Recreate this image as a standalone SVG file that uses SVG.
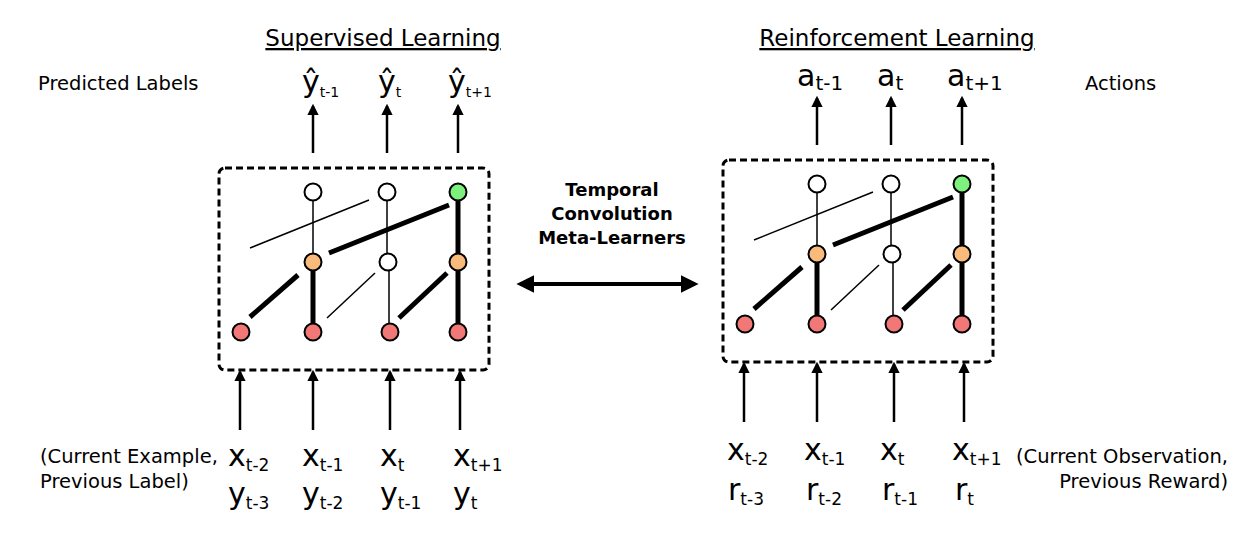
<svg xmlns="http://www.w3.org/2000/svg" width="1256" height="536" viewBox="0 0 1256 536">
<defs>
<marker id="ah" viewBox="0 0 10 10" refX="8" refY="5" markerWidth="4.5" markerHeight="4.5" orient="auto-start-reverse"><path d="M0,0 L10,5 L0,10 z" fill="#000"/></marker>
<style>
text{font-family:"DejaVu Sans",sans-serif;fill:#000}
.t{font-size:23px}
.s{font-size:19.5px}
.box{fill:none;stroke:#000;stroke-width:3;stroke-dasharray:7,4}
.thin{stroke:#000;stroke-width:1.5}
.thick{stroke:#000;stroke-width:5}
.arr{stroke:#000;stroke-width:2.5;marker-end:url(#ah)}
.n{stroke:#000;stroke-width:2}
.w{fill:#fff}.o{fill:#f9bb7b}.r{fill:#f27878}.g{fill:#7ef07e}
</style>
</defs>
<rect width="1256" height="536" fill="#fff"/>
<text class="t" x="383" y="46" text-anchor="middle" text-decoration="underline">Supervised Learning</text>
<text class="t" x="897" y="46" text-anchor="middle" text-decoration="underline">Reinforcement Learning</text>
<text class="s" x="38" y="90">Predicted Labels</text>
<text class="s" x="1085" y="90">Actions</text>
<text class="s" x="40" y="463">(Current Example,</text>
<text class="s" x="40" y="488">Previous Label)</text>
<text class="s" x="1228" y="463" text-anchor="end">(Current Observation,</text>
<text class="s" x="1228" y="488" text-anchor="end">Previous Reward)</text>
<g font-weight="bold" text-anchor="middle" font-size="18"><text x="612" y="196">Temporal</text><text x="612" y="220">Convolution</text><text x="612" y="244">Meta-Learners</text></g>
<g id="connectors">
<line x1="520" y1="284" x2="695" y2="284" stroke="#000" stroke-width="4" marker-start="url(#ah)" marker-end="url(#ah)"/>
<g id="left-conn">
<line class="arr" x1="313" y1="153" x2="313" y2="106"/><line class="arr" x1="387" y1="153" x2="387" y2="106"/><line class="arr" x1="458" y1="153" x2="458" y2="106"/>
<line class="arr" x1="240" y1="430" x2="240" y2="372"/><line class="arr" x1="313" y1="430" x2="313" y2="372"/><line class="arr" x1="390" y1="430" x2="390" y2="372"/><line class="arr" x1="460" y1="430" x2="460" y2="372"/>
<rect class="box" x="219" y="168" width="270" height="202" rx="6"/>
<line class="thin" x1="250" y1="248" x2="369" y2="200"/>
<line class="thin" x1="313" y1="201" x2="313" y2="253"/><line class="thin" x1="387" y1="201" x2="387" y2="253"/>
<line class="thick" x1="329" y1="253" x2="449" y2="205"/>
<line class="thick" x1="458" y1="201" x2="458" y2="253"/>
<line class="thick" x1="250" y1="317" x2="298" y2="275"/>
<line class="thick" x1="313" y1="271" x2="313" y2="323"/>
<line class="thin" x1="327" y1="318" x2="375" y2="273"/>
<line class="thin" x1="389" y1="271" x2="389" y2="323"/>
<line class="thick" x1="399" y1="318" x2="447" y2="273"/>
<line class="thick" x1="458" y1="271" x2="458" y2="323"/>
</g>
<g id="right-conn" transform="translate(504,-8)">
<line class="arr" x1="313" y1="153" x2="313" y2="106"/><line class="arr" x1="387" y1="153" x2="387" y2="106"/><line class="arr" x1="458" y1="153" x2="458" y2="106"/>
<line class="arr" x1="240" y1="430" x2="240" y2="372"/><line class="arr" x1="313" y1="430" x2="313" y2="372"/><line class="arr" x1="390" y1="430" x2="390" y2="372"/><line class="arr" x1="460" y1="430" x2="460" y2="372"/>
<rect class="box" x="219" y="168" width="270" height="202" rx="6"/>
<line class="thin" x1="250" y1="248" x2="369" y2="200"/>
<line class="thin" x1="313" y1="201" x2="313" y2="253"/><line class="thin" x1="387" y1="201" x2="387" y2="253"/>
<line class="thick" x1="329" y1="253" x2="449" y2="205"/>
<line class="thick" x1="458" y1="201" x2="458" y2="253"/>
<line class="thick" x1="250" y1="317" x2="298" y2="275"/>
<line class="thick" x1="313" y1="271" x2="313" y2="323"/>
<line class="thin" x1="327" y1="318" x2="375" y2="273"/>
<line class="thin" x1="389" y1="271" x2="389" y2="323"/>
<line class="thick" x1="399" y1="318" x2="447" y2="273"/>
<line class="thick" x1="458" y1="271" x2="458" y2="323"/>
</g>
</g>
<g id="left-nodes">
<circle id="L-t1" class="n w" cx="313" cy="192" r="8.5"/><circle id="L-t2" class="n w" cx="387" cy="192" r="8.5"/><circle id="L-t3" class="n g" cx="458" cy="192" r="8.5"/>
<circle id="L-m1" class="n o" cx="313" cy="262" r="8.5"/><circle id="L-m2" class="n w" cx="388" cy="262" r="8.5"/><circle id="L-m3" class="n o" cx="458" cy="262" r="8.5"/>
<circle id="L-b1" class="n r" cx="241" cy="332" r="8.5"/><circle id="L-b2" class="n r" cx="313" cy="332" r="8.5"/><circle id="L-b3" class="n r" cx="390" cy="332" r="8.5"/><circle id="L-b4" class="n r" cx="458" cy="332" r="8.5"/>
</g>
<g id="right-nodes" transform="translate(504,-8)">
<circle id="R-t1" class="n w" cx="313" cy="192" r="8.5"/><circle id="R-t2" class="n w" cx="387" cy="192" r="8.5"/><circle id="R-t3" class="n g" cx="458" cy="192" r="8.5"/>
<circle id="R-m1" class="n o" cx="313" cy="262" r="8.5"/><circle id="R-m2" class="n w" cx="388" cy="262" r="8.5"/><circle id="R-m3" class="n o" cx="458" cy="262" r="8.5"/>
<circle id="R-b1" class="n r" cx="241" cy="332" r="8.5"/><circle id="R-b2" class="n r" cx="313" cy="332" r="8.5"/><circle id="R-b3" class="n r" cx="390" cy="332" r="8.5"/><circle id="R-b4" class="n r" cx="458" cy="332" r="8.5"/>
</g>
<g id="labels">
<g font-size="30">
<text x="302" y="92">ŷ<tspan font-size="14" dy="5">t-1</tspan></text>
<text x="378" y="92">ŷ<tspan font-size="14" dy="5">t</tspan></text>
<text x="448" y="92">ŷ<tspan font-size="14" dy="5">t+1</tspan></text>
<text x="797" y="86">a<tspan font-size="20" dy="4">t-1</tspan></text>
<text x="877" y="86">a<tspan font-size="20" dy="4">t</tspan></text>
<text x="947" y="86">a<tspan font-size="20" dy="4">t+1</tspan></text>
<text x="228" y="466">x<tspan font-size="17" dy="5">t-2</tspan></text>
<text x="302" y="466">x<tspan font-size="17" dy="5">t-1</tspan></text>
<text x="380" y="466">x<tspan font-size="17" dy="5">t</tspan></text>
<text x="453" y="466">x<tspan font-size="17" dy="5">t+1</tspan></text>
<text x="228" y="504">y<tspan font-size="17" dy="5">t-3</tspan></text>
<text x="302" y="504">y<tspan font-size="17" dy="5">t-2</tspan></text>
<text x="380" y="504">y<tspan font-size="17" dy="5">t-1</tspan></text>
<text x="453" y="504">y<tspan font-size="17" dy="5">t</tspan></text>
<text x="727" y="460">x<tspan font-size="17" dy="5">t-2</tspan></text>
<text x="804" y="460">x<tspan font-size="17" dy="5">t-1</tspan></text>
<text x="880" y="460">x<tspan font-size="17" dy="5">t</tspan></text>
<text x="952" y="460">x<tspan font-size="17" dy="5">t+1</tspan></text>
<text x="728" y="500">r<tspan font-size="17" dy="5">t-3</tspan></text>
<text x="806" y="500">r<tspan font-size="17" dy="5">t-2</tspan></text>
<text x="882" y="500">r<tspan font-size="17" dy="5">t-1</tspan></text>
<text x="955" y="500">r<tspan font-size="17" dy="5">t</tspan></text>
</g>
</g>
</svg>
